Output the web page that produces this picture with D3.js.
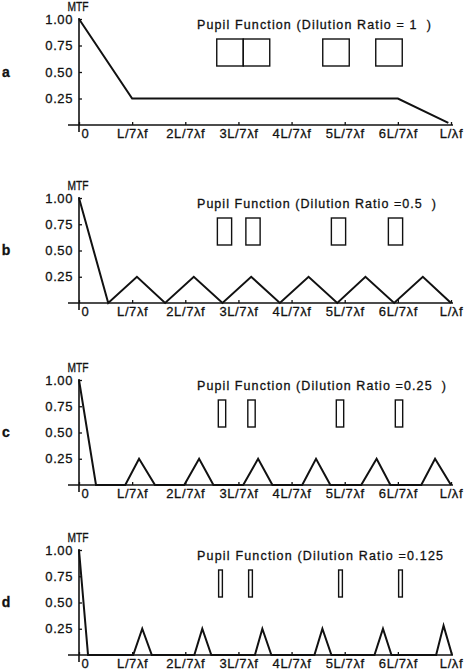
<!DOCTYPE html>
<html>
<head>
<meta charset="utf-8">
<script src="https://cdn.jsdelivr.net/npm/d3@7"></script>
<style>
  body { margin: 0; background: #fff; }
  text { font-family: "Liberation Sans", Arial, sans-serif; fill: #111; stroke: #111; stroke-width: 0.3px; }
</style>
</head>
<body>
<script>
// tick values / labels
const xTicks = [0, 1, 2, 3, 4, 5, 6, 7];
const xTickLabels = ["0", "L/7\u03bbf", "2L/7\u03bbf", "3L/7\u03bbf", "4L/7\u03bbf", "5L/7\u03bbf", "6L/7\u03bbf", "L/\u03bbf"];
const yTicks = [0.25, 0.5, 0.75, 1.0];

const panelLetters = ["a", "b", "c", "d"];
const dilutionRatios = [1, 0.5, 0.25, 0.125];
const titleTexts = [
  "Pupil Function (Dilution Ratio = 1  )",
  "Pupil Function (Dilution Ratio =0.5  )",
  "Pupil Function (Dilution Ratio =0.25  )",
  "Pupil Function (Dilution Ratio =0.125"
];
// sub-aperture slots of the pupil (non-redundant array)
const pupilSlots = [0, 1, 4, 6];

// MTF curves, x in units of L/7λf
const mtfA = [[0, 1], [1, 0.25], [6, 0.25], [6.95, 0.02]];
const mtfB = [[0, 1], [0.55, 0], [1.09, 0.25], [1.62, 0], [2.16, 0.25], [2.70, 0], [3.24, 0.25],
  [3.78, 0], [4.32, 0.25], [4.86, 0], [5.39, 0.25], [5.93, 0], [6.47, 0.25], [7.0, 0]];
const mtfC = [[0, 1], [0.32, 0], [0.87, 0], [1.13, 0.25], [1.43, 0], [1.98, 0], [2.26, 0.25], [2.53, 0],
  [3.09, 0], [3.37, 0.25], [3.64, 0], [4.2, 0], [4.46, 0.25], [4.73, 0], [5.31, 0], [5.6, 0.25], [5.86, 0],
  [6.44, 0], [6.7, 0.25], [7.0, 0]];
const mtfD = [[0, 1], [0.17, 0], [1.02, 0], [1.19, 0.25], [1.37, 0], [2.17, 0], [2.32, 0.25], [2.49, 0],
  [3.31, 0], [3.45, 0.25], [3.62, 0], [4.43, 0], [4.58, 0.25], [4.75, 0], [5.56, 0], [5.72, 0.25], [5.88, 0],
  [6.72, 0], [6.86, 0.28], [7.02, 0]];
const mtfCurves = [mtfA, mtfB, mtfC, mtfD];

// layout of each panel (pixel positions)
const layout = [
  { top: 19,  base: 125, pc: 230,   pu: 26.5, tl: 234 },
  { top: 198, base: 303, pc: 224.5, pu: 28.5, tl: 239 },
  { top: 380, base: 485, pc: 222,   pu: 29.5, tl: 249 },
  { top: 550, base: 655, pc: 220.5, pu: 30,   tl: 246 }
];

const w = 474, h = 671;
const svg = d3.select("body").append("svg")
  .attr("width", w)
  .attr("height", h);

const x = d3.scaleLinear().domain([0, 7]).range([79, 451]);

layout.forEach(function (p, i) {
  const y = d3.scaleLinear().domain([0, 1]).range([p.base, p.top]);
  const g = svg.append("g");

  // x axis
  const xa = g.append("g")
    .attr("transform", "translate(0," + p.base + ")")
    .call(d3.axisBottom(x)
      .tickValues(xTicks)
      .tickFormat(function (d, k) { return xTickLabels[k]; })
      .tickSizeInner(-3)
      .tickSizeOuter(0)
      .tickPadding(4));
  xa.select(".domain").remove();
  xa.selectAll("line").attr("stroke", "#111").attr("stroke-width", 1.3);
  xa.selectAll("text")
    .attr("font-size", 13)
    .attr("letter-spacing", "0.6px")
    .attr("fill", "#111")
    .attr("dx", function (d) { return d === 0 ? 6 : 0; });
  g.append("line")
    .attr("x1", 68).attr("x2", 453)
    .attr("y1", p.base).attr("y2", p.base)
    .attr("stroke", "#111").attr("stroke-width", 1.6);

  // y axis
  const ya = g.append("g")
    .attr("transform", "translate(" + x(0) + ",0)")
    .call(d3.axisLeft(y)
      .tickValues(yTicks)
      .tickFormat(d3.format(".2f"))
      .tickSizeInner(-3)
      .tickSizeOuter(0)
      .tickPadding(6));
  ya.select(".domain").remove();
  ya.selectAll("line").attr("stroke", "#111").attr("stroke-width", 1.3);
  ya.selectAll("text")
    .attr("font-size", 13)
    .attr("letter-spacing", "0.6px")
    .attr("fill", "#111");
  g.append("line")
    .attr("x1", x(0)).attr("x2", x(0))
    .attr("y1", p.top - 1).attr("y2", p.base + 7)
    .attr("stroke", "#111").attr("stroke-width", 1.6);

  // MTF label and panel letter
  g.append("text")
    .attr("x", x(0) - 1).attr("y", p.top - 8)
    .attr("text-anchor", "middle")
    .attr("font-size", 13)
    .attr("textLength", 21)
    .attr("lengthAdjust", "spacingAndGlyphs")
    .text("MTF");
  g.append("text")
    .attr("x", 6).attr("y", y(0.5))
    .attr("dy", "0.35em")
    .attr("text-anchor", "middle")
    .attr("font-size", 14)
    .attr("font-weight", "bold")
    .text(panelLetters[i]);

  // curve
  const line = d3.line()
    .x(function (d) { return x(d[0]); })
    .y(function (d) { return y(d[1]); });
  g.append("path")
    .datum(mtfCurves[i])
    .attr("d", line)
    .attr("fill", "none")
    .attr("stroke", "#111")
    .attr("stroke-width", 2)
    .attr("stroke-linejoin", "miter");

  // pupil function title and sub-apertures
  g.append("text")
    .attr("x", 197).attr("y", p.top + 10)
    .attr("font-size", 12.5)
    .attr("textLength", p.tl)
    .attr("lengthAdjust", "spacing")
    .style("white-space", "pre")
    .text(titleTexts[i]);

  const ps = d3.scaleLinear().domain([0, 6]).range([p.pc, p.pc + 6 * p.pu]);
  const pw = dilutionRatios[i] * p.pu;
  g.selectAll("rect.pupil")
    .data(pupilSlots)
    .enter()
    .append("rect")
    .attr("class", "pupil")
    .attr("x", function (d) { return ps(d) - pw / 2; })
    .attr("y", p.top + 20)
    .attr("width", pw)
    .attr("height", 27)
    .attr("fill", "none")
    .attr("stroke", "#111")
    .attr("stroke-width", 1.4);
});
</script>
</body>
</html>
